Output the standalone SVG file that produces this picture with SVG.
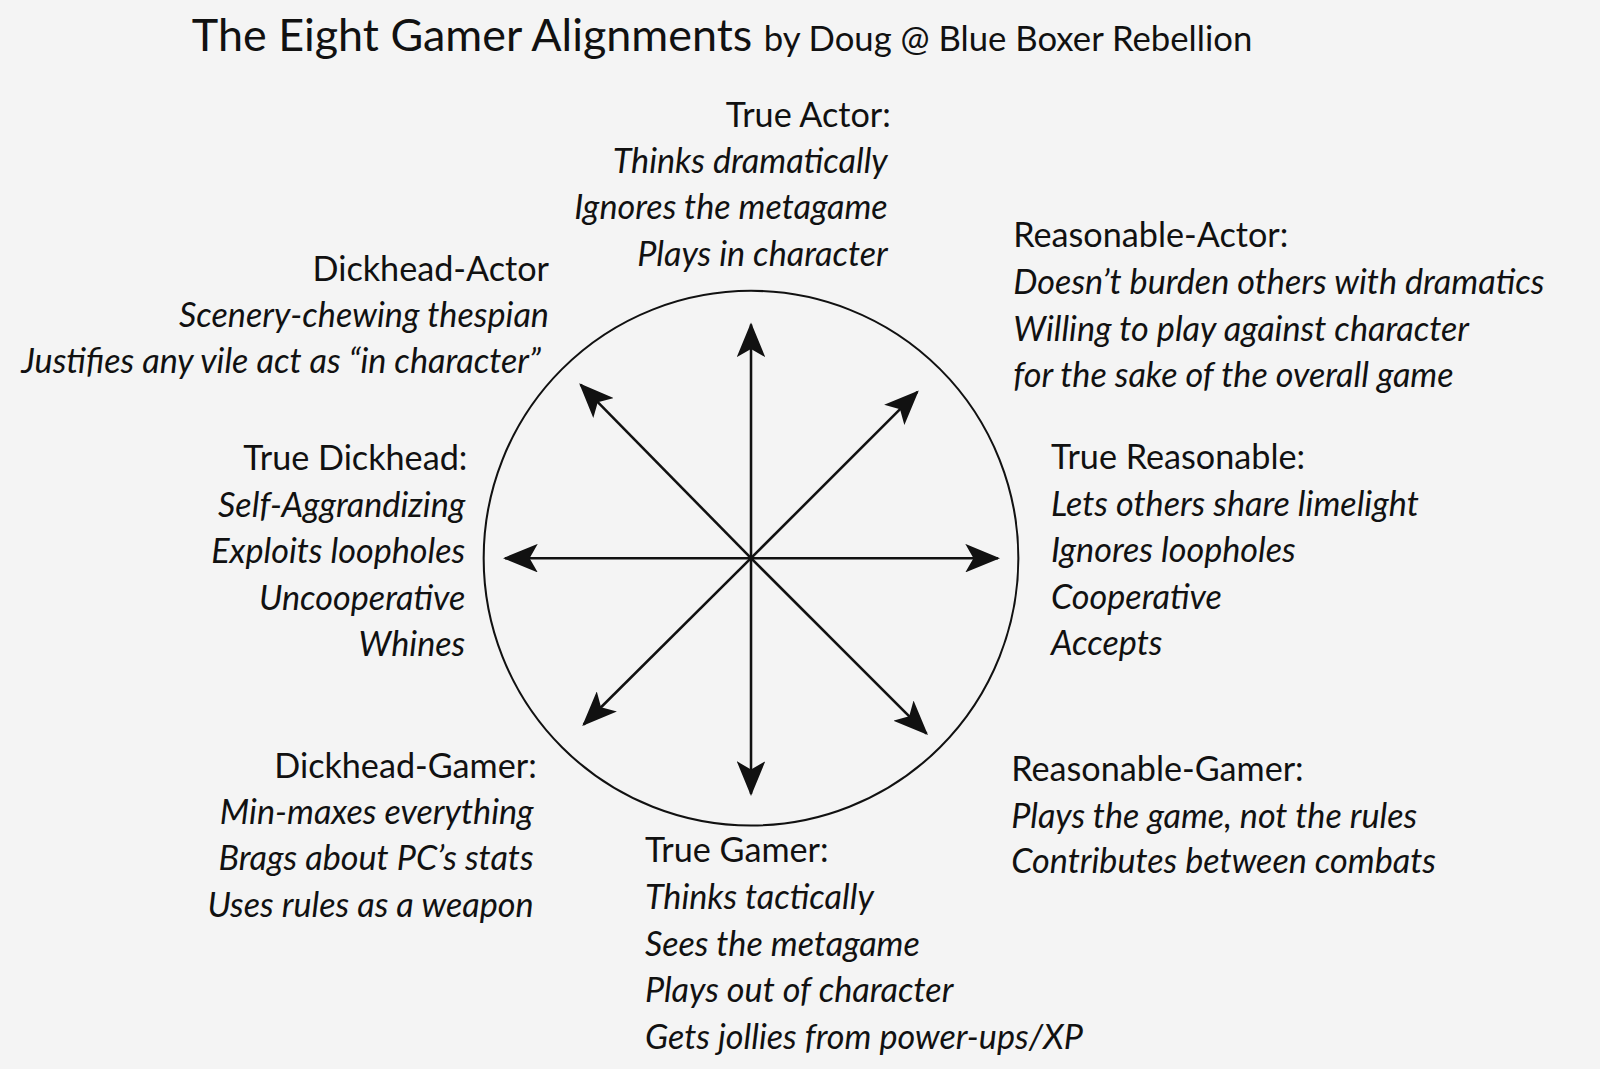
<svg xmlns="http://www.w3.org/2000/svg" width="1600" height="1069" viewBox="0 0 1600 1069">
<defs>
<style>
text{font-family:Lato,"Open Sans","Liberation Sans",sans-serif;fill:#111;font-size:33.5px}
.i{font-style:italic}
.r{text-anchor:end}
.ax{stroke:#111;stroke-width:2.5;fill:none}
</style>
<marker id="ah" markerUnits="userSpaceOnUse" markerWidth="34" markerHeight="28" refX="32" refY="14" orient="auto">
<path d="M0,0 L34,14 L0,28 L8,14 Z" fill="#111"/>
</marker>
</defs>
<rect width="1600" height="1069" fill="#f4f4f4"/>
<g transform="scale(1.0204)">
<g id="title"><text x="188" y="50" style="font-size:44px">The Eight Gamer Alignments <tspan style="font-size:34px">by Doug @ Blue Boxer Rebellion</tspan></text></g>
<g id="wheel"><circle cx="736" cy="547" r="262" fill="none" stroke="#111" stroke-width="2"/></g>
<g id="connectors">
<line class="ax" x1="736" y1="547" x2="736" y2="318" marker-end="url(#ah)"/>
<line class="ax" x1="736" y1="547" x2="736" y2="778" marker-end="url(#ah)"/>
<line class="ax" x1="736" y1="547" x2="495" y2="547" marker-end="url(#ah)"/>
<line class="ax" x1="736" y1="547" x2="978" y2="547" marker-end="url(#ah)"/>
<line class="ax" x1="736" y1="547" x2="569" y2="377" marker-end="url(#ah)"/>
<line class="ax" x1="736" y1="547" x2="899" y2="384" marker-end="url(#ah)"/>
<line class="ax" x1="736" y1="547" x2="572" y2="710" marker-end="url(#ah)"/>
<line class="ax" x1="736" y1="547" x2="908" y2="719" marker-end="url(#ah)"/>
</g>
<g id="true-actor"><text class="r" x="873" y="124">True Actor:</text><text class="r i" x="870" y="170">Thinks dramatically</text><text class="r i" x="870" y="215">Ignores the metagame</text><text class="r i" x="870" y="261">Plays in character</text></g>
<g id="reasonable-actor"><text x="993" y="242">Reasonable-Actor:</text><text class="i" x="993" y="288">Doesn’t burden others with dramatics</text><text class="i" x="993" y="334">Willing to play against character</text><text class="i" x="993" y="379">for the sake of the overall game</text></g>
<g id="dickhead-actor"><text class="r" x="538" y="275">Dickhead-Actor</text><text class="r i" x="538" y="320">Scenery-chewing thespian</text><text class="r i" x="530" y="366">Justifies any vile act as “in character”</text></g>
<g id="true-dickhead"><text class="r" x="458" y="461">True Dickhead:</text><text class="r i" x="456" y="507">Self-Aggrandizing</text><text class="r i" x="456" y="552">Exploits loopholes</text><text class="r i" x="456" y="598">Uncooperative</text><text class="r i" x="456" y="643">Whines</text></g>
<g id="true-reasonable"><text x="1030" y="460">True Reasonable:</text><text class="i" x="1030" y="506">Lets others share limelight</text><text class="i" x="1030" y="551">Ignores loopholes</text><text class="i" x="1030" y="597">Cooperative</text><text class="i" x="1030" y="642">Accepts</text></g>
<g id="dickhead-gamer"><text class="r" x="526" y="762">Dickhead-Gamer:</text><text class="r i" x="523" y="808">Min-maxes everything</text><text class="r i" x="523" y="853">Brags about PC’s stats</text><text class="r i" x="523" y="899">Uses rules as a weapon</text></g>
<g id="reasonable-gamer"><text x="991" y="765">Reasonable-Gamer:</text><text class="i" x="991" y="811">Plays the game, not the rules</text><text class="i" x="991" y="856">Contributes between combats</text></g>
<g id="true-gamer"><text x="632" y="845">True Gamer:</text><text class="i" x="632" y="891">Thinks tactically</text><text class="i" x="632" y="937">Sees the metagame</text><text class="i" x="632" y="982">Plays out of character</text><text class="i" x="632" y="1028">Gets jollies from power-ups/XP</text></g>
</g>
</svg>
